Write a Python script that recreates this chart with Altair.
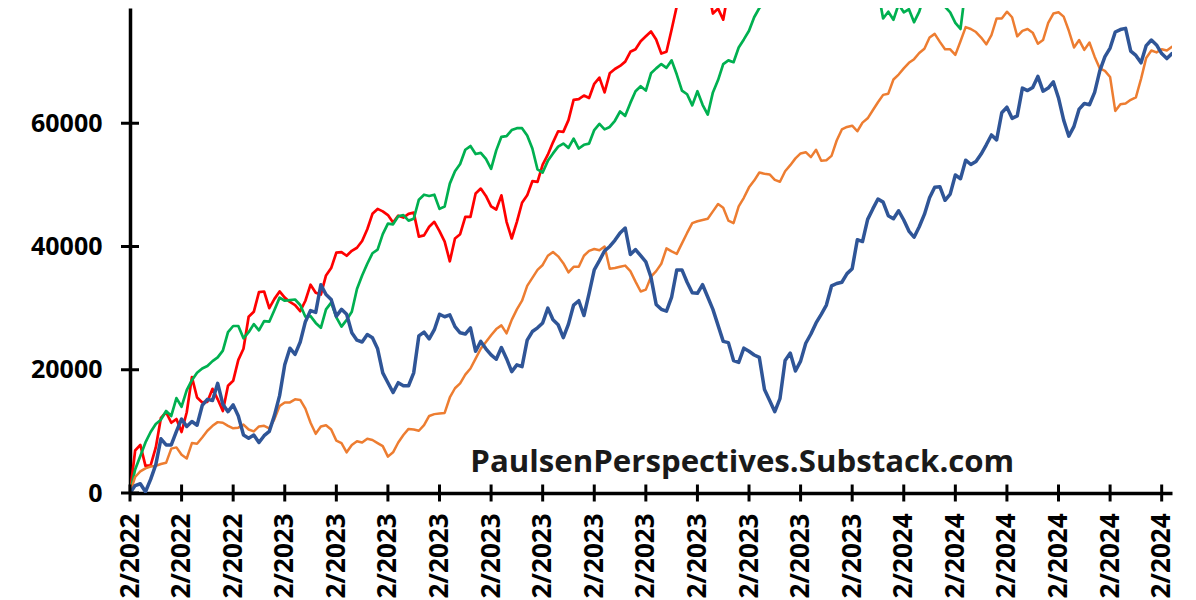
import altair as alt
import pandas as pd

# Values in thousands, sampled every 0.1 month from the 10/12/2022 start
blue_k = [0, 1.2, 1.5, 0.2, 2.2, 4.6, 8.8, 7.8, 7.8, 10.0,
 12.0, 10.8, 11.6, 11.0, 14.2, 15.2, 15.0, 17.8, 14.4, 13.2,
 14.3, 12.5, 9.4, 8.9, 9.4, 8.2, 9.3, 10.0, 12.6, 15.8,
 20.8, 23.5, 22.5, 24.5, 27.8, 29.6, 29.3, 33.8, 32.2, 31.4,
 28.7, 29.8, 29.0, 26.0, 24.8, 24.5, 25.7, 25.2, 23.4, 19.5,
 17.9, 16.3, 17.9, 17.4, 17.4, 19.5, 25.5, 26.1, 25.0, 26.5,
 29.0, 28.6, 28.9, 27.0, 26.0, 25.8, 26.8, 23.0, 24.6, 23.4,
 22.4, 21.7, 23.6, 21.8, 19.7, 20.8, 20.5, 24.8, 26.2, 26.8,
 27.6, 30.0, 28.1, 27.3, 25.2, 27.4, 30.5, 31.2, 28.8, 32.4,
 36.2, 37.7, 39.3, 40.0, 41.0, 42.2, 43.0, 38.7, 39.5, 38.5,
 37.5, 35.0, 30.6, 29.8, 29.5, 31.8, 36.2, 36.2, 34.2, 32.5,
 32.4, 33.8, 31.8, 29.8, 27.2, 24.6, 24.4, 21.5, 21.2, 23.5,
 23.0, 22.4, 22.0, 16.8, 15.0, 13.2, 15.3, 21.5, 22.7, 19.8,
 21.4, 24.3, 25.8, 27.6, 29.0, 30.5, 33.6, 34.0, 34.2, 35.6,
 36.4, 41.1, 40.8, 44.4, 46.1, 47.7, 47.2, 45.0, 44.5, 45.8,
 44.3, 42.5, 41.5, 43.2, 45.2, 47.9, 49.6, 49.7, 47.5, 48.5,
 51.6, 51.0, 54.0, 53.3, 53.8, 55.0, 56.5, 58.1, 57.3, 61.7,
 62.6, 60.8, 61.2, 65.7, 65.3, 65.8, 67.6, 65.2, 65.7, 66.7,
 64.1, 60.5, 57.9, 59.5, 62.3, 63.2, 63.0, 65.0, 68.5, 70.8,
 72.2, 74.8, 75.2, 75.4, 71.7, 71.0, 69.8, 72.6, 73.5, 72.7,
 71.3, 70.5, 71.3]

orange_k = [0, 2.6, 3.5, 4.0, 4.3, 4.4, 4.7, 4.9, 7.2, 7.4,
 6.2, 5.6, 8.1, 8.0, 9.0, 10.1, 10.9, 11.5, 11.4, 10.9,
 10.5, 10.6, 11.1, 10.3, 10.0, 10.8, 10.9, 10.5, 12.0, 14.1,
 14.7, 14.7, 15.2, 15.1, 13.7, 11.4, 9.6, 10.8, 11.0, 10.3,
 8.5, 8.1, 6.6, 7.8, 8.4, 8.2, 8.8, 8.6, 8.1, 7.6,
 5.9, 6.6, 8.2, 9.4, 10.4, 10.3, 10.1, 11.0, 12.5, 12.8,
 12.9, 13.0, 15.5, 17.0, 17.8, 19.2, 20.2, 21.8, 23.4, 24.5,
 25.6, 26.6, 27.2, 25.9, 28.1, 29.8, 31.2, 33.6, 34.9, 36.2,
 37.0, 38.5, 39.1, 38.4, 37.3, 35.8, 36.7, 36.7, 38.5, 39.3,
 39.6, 39.4, 40.0, 36.4, 36.5, 36.7, 36.9, 36.0, 34.3, 32.7,
 33.0, 35.1, 36.0, 37.2, 39.7, 39.2, 38.8, 40.5, 42.2, 43.8,
 44.1, 44.3, 44.5, 45.7, 46.9, 46.3, 44.2, 43.8, 46.5, 47.9,
 49.6, 50.7, 52.0, 51.8, 51.7, 50.8, 50.5, 52.2, 53.2, 54.3,
 55.1, 55.3, 54.5, 55.7, 53.9, 54.0, 54.7, 57.2, 59.0, 59.4,
 59.6, 58.7, 60.1, 60.8, 62.1, 63.4, 64.6, 64.8, 67.1, 67.9,
 68.9, 69.8, 70.4, 71.4, 72.1, 73.9, 74.5, 73.2, 72.0, 72.0,
 71.1, 73.3, 75.6, 75.3, 74.8, 73.9, 72.8, 74.3, 77.0, 77.0,
 78.1, 77.2, 74.1, 75.0, 75.3, 74.7, 72.9, 73.5, 76.3, 77.8,
 78.0, 77.3, 75.0, 72.3, 73.5, 71.9, 73.1, 70.8, 68.9, 68.5,
 67.5, 62.0, 63.1, 63.2, 63.8, 64.2, 67.2, 70.6, 71.8, 71.5,
 72.0, 71.8, 72.4]

red_k = [0, 6.9, 7.8, 4.4, 4.5, 7.4, 12.2, 13.1, 11.4, 12.0,
 9.9, 13.1, 18.8, 15.5, 14.7, 14.8, 16.9, 15.2, 13.3, 17.4,
 18.2, 21.6, 23.4, 28.6, 29.4, 32.6, 32.7, 30.0, 31.5, 32.7,
 31.7, 31.0, 30.5, 29.5, 31.2, 33.8, 32.5, 32.2, 35.3, 36.5,
 39.0, 39.1, 38.5, 39.3, 39.8, 40.9, 42.8, 45.3, 46.1, 45.7,
 45.1, 43.9, 45.0, 44.7, 45.3, 45.5, 41.6, 41.8, 43.2, 44.0,
 42.5, 40.8, 37.6, 41.3, 42.0, 44.8, 44.8, 48.6, 49.4, 48.2,
 46.5, 46.0, 48.3, 44.0, 41.3, 44.0, 47.1, 48.3, 50.6, 50.5,
 53.3, 54.9, 56.9, 58.7, 58.6, 60.5, 63.8, 63.9, 64.5, 64.1,
 66.4, 67.4, 65.0, 68.1, 68.8, 69.3, 70.0, 71.6, 72.0, 73.3,
 74.1, 74.9, 73.6, 71.3, 71.6, 75.2, 79.0, 82.0, 83.0, 83.0,
 83.0, 83.0, 82.0, 77.8, 78.6, 76.8, 81.5, 83.0]

green_k = [0, 3.8, 6.0, 8.2, 9.9, 11.2, 11.9, 13.3, 12.5, 15.4,
 14.0, 16.7, 18.3, 19.5, 20.2, 20.6, 21.4, 22.0, 23.1, 26.1,
 27.1, 27.1, 25.1, 26.1, 27.4, 26.4, 27.9, 27.8, 29.7, 31.7,
 31.2, 31.3, 31.4, 30.5, 28.6, 28.7, 27.6, 26.8, 29.8, 30.9,
 28.5, 27.0, 28.1, 29.4, 33.1, 35.3, 37.2, 38.9, 39.5, 42.0,
 43.7, 43.6, 44.9, 45.1, 44.2, 44.5, 47.6, 48.4, 48.2, 48.4,
 46.1, 46.5, 50.2, 52.2, 53.4, 55.7, 56.3, 55.0, 55.2, 54.2,
 52.6, 55.6, 57.8, 57.9, 58.9, 59.2, 59.2, 58.0, 55.9, 52.5,
 52.0, 53.9, 55.1, 56.2, 56.7, 56.0, 57.5, 55.9, 56.5, 56.7,
 58.9, 59.9, 59.0, 59.4, 60.4, 61.9, 61.2, 63.3, 65.2, 66.0,
 65.3, 68.1, 68.9, 69.6, 69.0, 70.2, 67.9, 65.3, 64.7, 62.9,
 65.2, 63.0, 61.4, 65.0, 67.0, 69.6, 70.2, 69.9, 72.3, 73.6,
 75.0, 77.2, 78.7, 79.5, 79.8, 81.0, 82.0, 83.0, 83.0, 83.0,
 83.0, 83.0, 83.0, 83.0, 83.0, 83.0, 83.0, 83.0, 83.0, 83.0,
 83.0, 83.0, 83.0, 83.0, 83.0, 81.5, 77.0, 78.1, 76.8, 79.3,
 78.0, 78.5, 76.4, 78.1, 80.8, 82.0, 82.0, 81.0, 78.9, 78.0,
 76.3, 75.3, 82.0]

tick_labels = ["10/12/2022", "11/12/2022", "12/12/2022",
               "1/12/2023", "2/12/2023", "3/12/2023", "4/12/2023", "5/12/2023",
               "6/12/2023", "7/12/2023", "8/12/2023", "9/12/2023", "10/12/2023",
               "11/12/2023", "12/12/2023",
               "1/12/2024", "2/12/2024", "3/12/2024", "4/12/2024", "5/12/2024",
               "6/12/2024"]
y_ticks = [0, 20000, 40000, 60000, 80000]

series = [("red", red_k, "#FF0000", 2.7),
          ("green", green_k, "#00B050", 2.7),
          ("orange", orange_k, "#ED7D31", 2.5),
          ("blue", blue_k, "#2F5597", 3.5)]

FONT = "Open Sans"
STEP = 0.1
XMAX = 20.2
YMAX = 78700

x_scale = alt.Scale(domain=[0, XMAX], nice=False, zero=False)
y_scale = alt.Scale(domain=[0, YMAX], nice=False)

label_js = "[" + ",".join("'%s'" % t for t in tick_labels) + "]"

x_axis = alt.Axis(values=list(range(len(tick_labels))), labelExpr=label_js + "[datum.value]",
                  title=None, grid=False, ticks=False, tickSize=0,
                  domainColor="black", domainWidth=3.5,
                  labelAngle=270, labelAlign="right", labelBaseline="middle",
                  labelPadding=20, labelFont=FONT, labelFontSize=26,
                  labelFontWeight="bold", labelColor="black", labelOverlap=False,
                  labelFlush=False)
y_axis = alt.Axis(values=y_ticks, format="d", title=None, grid=False, ticks=False,
                  tickSize=0, domainColor="black", domainWidth=3.5,
                  labelPadding=28, labelFont=FONT, labelFontSize=25,
                  labelFontWeight="bold", labelColor="black", labelFlush=False)

x_enc = alt.X("month:Q", scale=x_scale, axis=x_axis)
y_enc = alt.Y("value:Q", scale=y_scale, axis=y_axis)

layers = []
for name, vals, color, width in series:
    df = pd.DataFrame({"month": [i * STEP for i in range(len(vals))],
                       "value": [v * 1000 for v in vals]})
    layers.append(
        alt.Chart(df).mark_line(color=color, strokeWidth=width, clip=True,
                                strokeJoin="round", strokeCap="round").encode(x=x_enc, y=y_enc)
    )

xt = pd.DataFrame({"month": list(range(len(tick_labels))), "value": [0] * len(tick_labels)})
x_ticks_layer = alt.Chart(xt).mark_tick(orient="vertical", size=17, thickness=3,
                                        color="black", opacity=1).encode(x=x_enc, y=y_enc)

yt = pd.DataFrame({"month": [0] * 4, "value": y_ticks[:4]})
y_ticks_layer = alt.Chart(yt).mark_tick(orient="horizontal", size=18, thickness=3,
                                        color="black", opacity=1).encode(x=x_enc, y=y_enc)

wm = pd.DataFrame({"month": [11.87], "value": [3400], "text": ["PaulsenPerspectives.Substack.com"]})
watermark = alt.Chart(wm).mark_text(font=FONT, fontSize=31.2, fontWeight="bold",
                                    color="#1a1a1a", align="center",
                                    baseline="alphabetic").encode(
    x=x_enc, y=y_enc, text="text:N")

chart = alt.layer(*layers, x_ticks_layer, y_ticks_layer, watermark).properties(
    width=1042, height=485,
    autosize=alt.AutoSizeParams(type="none"),
    padding={"left": 122, "top": 0, "right": 10, "bottom": 107},
    background="white",
).configure_view(stroke=None)

chart.save("out.html", embed_options={"renderer": "svg", "actions": False})
